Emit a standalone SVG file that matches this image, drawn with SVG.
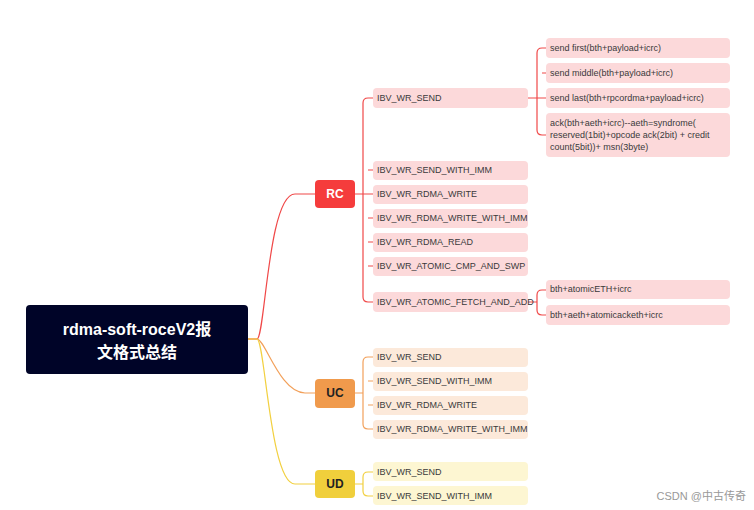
<svg xmlns="http://www.w3.org/2000/svg" width="754" height="510" viewBox="0 0 754 510">
<style>
text{font-family:"Liberation Sans","Noto Sans CJK SC",sans-serif;font-size:9px;fill:#3a3a3a;dominant-baseline:central}
.rc{fill:#fcd9da}.uc{fill:#fce9da}.ud{fill:#fdf6d2}
.lr{fill:none;stroke:#f04848;stroke-width:1.2}.lu{fill:none;stroke:#f2a05a;stroke-width:1.2}.ld{fill:none;stroke:#f2d040;stroke-width:1.2}
.cat{font-size:12px;font-weight:bold;text-anchor:middle}
</style>
<rect width="754" height="510" fill="#fff"/>
<g id="connectors">
<path class="lr" d="M248,339 H257 C265,339 268,194 295,194 H315"/>
<path class="lu" d="M248,339 H257 C265,339 280,393 305,393 H315"/>
<path class="ld" d="M248,339 H257 C265,339 270,484 295,484 H315"/>
<path class="lr" d="M355,194 H373 M368,98 H373 M368,170 H373 M368,194 H373 M368,218 H373 M368,242 H373 M368,266 H373 M368,302 H373 M363,103 Q363,98 368,98 M363,103 V297 Q363,302 368,302"/>
<path class="lr" d="M528,98 H546 M542,48 H546 M542,73 H546 M542,135 H546 M537,53 Q537,48 542,48 M537,53 V130 Q537,135 542,135"/>
<path class="lr" d="M528,302 H537 M542,290 H546 M542,315 H546 M537,295 Q537,290 542,290 M537,295 V310 Q537,315 542,315"/>
<path class="lu" d="M355,393 H363 M368,357 H373 M368,381 H373 M368,405 H373 M368,429 H373 M363,362 Q363,357 368,357 M363,362 V424 Q363,429 368,429"/>
<path class="ld" d="M355,484 H363 M368,472 H373 M368,496 H373 M363,477 Q363,472 368,472 M363,477 V491 Q363,496 368,496"/>
</g>
<g id="root"><rect x="26" y="305" width="222" height="69" rx="4" fill="#000428"/>
<text x="137" y="329" style="fill:#fff;font-size:16px;font-weight:bold;text-anchor:middle">rdma-soft-roceV2报</text>
<text x="137" y="352" style="fill:#fff;font-size:16px;font-weight:bold;text-anchor:middle">文格式总结</text></g>
<g id="RC"><rect x="315" y="180" width="40" height="28" rx="4" fill="#f53c3c"/><text class="cat" x="335" y="194" style="fill:#fff">RC</text></g>
<g id="UC"><rect x="315" y="379" width="40" height="29" rx="4" fill="#f09a4c"/><text class="cat" x="335" y="393" style="fill:#222">UC</text></g>
<g id="UD"><rect x="315" y="470" width="40" height="28" rx="4" fill="#f0cf3c"/><text class="cat" x="335" y="484" style="fill:#222">UD</text></g>
<g id="rc1"><rect class="rc" x="373" y="88" width="155" height="20" rx="4"/><text x="377" y="98">IBV_WR_SEND</text></g>
<g id="rc2"><rect class="rc" x="373" y="161" width="155" height="19" rx="4"/><text x="377" y="170">IBV_WR_SEND_WITH_IMM</text></g>
<g id="rc3"><rect class="rc" x="373" y="185" width="155" height="19" rx="4"/><text x="377" y="194">IBV_WR_RDMA_WRITE</text></g>
<g id="rc4"><rect class="rc" x="373" y="209" width="155" height="19" rx="4"/><text x="377" y="218">IBV_WR_RDMA_WRITE_WITH_IMM</text></g>
<g id="rc5"><rect class="rc" x="373" y="233" width="155" height="19" rx="4"/><text x="377" y="242">IBV_WR_RDMA_READ</text></g>
<g id="rc6"><rect class="rc" x="373" y="257" width="155" height="19" rx="4"/><text x="377" y="266">IBV_WR_ATOMIC_CMP_AND_SWP</text></g>
<g id="rc7"><rect class="rc" x="373" y="292" width="155" height="20" rx="4"/><text x="377" y="302">IBV_WR_ATOMIC_FETCH_AND_ADD</text></g>
<g id="l1"><rect class="rc" x="546" y="38" width="184" height="20" rx="4"/><text x="550" y="48">send first(bth+payload+icrc)</text></g>
<g id="l2"><rect class="rc" x="546" y="63" width="184" height="20" rx="4"/><text x="550" y="73">send middle(bth+payload+icrc)</text></g>
<g id="l3"><rect class="rc" x="546" y="88" width="184" height="20" rx="4"/><text x="550" y="98">send last(bth+rpcordma+payload+icrc)</text></g>
<g id="l4"><rect class="rc" x="546" y="113" width="184" height="44" rx="4"/><text x="550" y="123">ack(bth+aeth+icrc)--aeth=syndrome(</text><text x="550" y="135">reserved(1bit)+opcode ack(2bit) + credit</text><text x="550" y="147">count(5bit))+ msn(3byte)</text></g>
<g id="l5"><rect class="rc" x="546" y="280" width="184" height="19" rx="4"/><text x="550" y="289">bth+atomicETH+icrc</text></g>
<g id="l6"><rect class="rc" x="546" y="305" width="184" height="20" rx="4"/><text x="550" y="315">bth+aeth+atomicacketh+icrc</text></g>
<g id="uc1"><rect class="uc" x="373" y="348" width="155" height="19" rx="4"/><text x="377" y="357">IBV_WR_SEND</text></g>
<g id="uc2"><rect class="uc" x="373" y="372" width="155" height="19" rx="4"/><text x="377" y="381">IBV_WR_SEND_WITH_IMM</text></g>
<g id="uc3"><rect class="uc" x="373" y="396" width="155" height="19" rx="4"/><text x="377" y="405">IBV_WR_RDMA_WRITE</text></g>
<g id="uc4"><rect class="uc" x="373" y="420" width="155" height="19" rx="4"/><text x="377" y="429">IBV_WR_RDMA_WRITE_WITH_IMM</text></g>
<g id="ud1"><rect class="ud" x="373" y="462" width="155" height="19" rx="4"/><text x="377" y="472">IBV_WR_SEND</text></g>
<g id="ud2"><rect class="ud" x="373" y="486" width="155" height="19" rx="4"/><text x="377" y="496">IBV_WR_SEND_WITH_IMM</text></g>
<text x="746" y="496" style="fill:#999;font-size:11px;text-anchor:end">CSDN @中古传奇</text>
</svg>
